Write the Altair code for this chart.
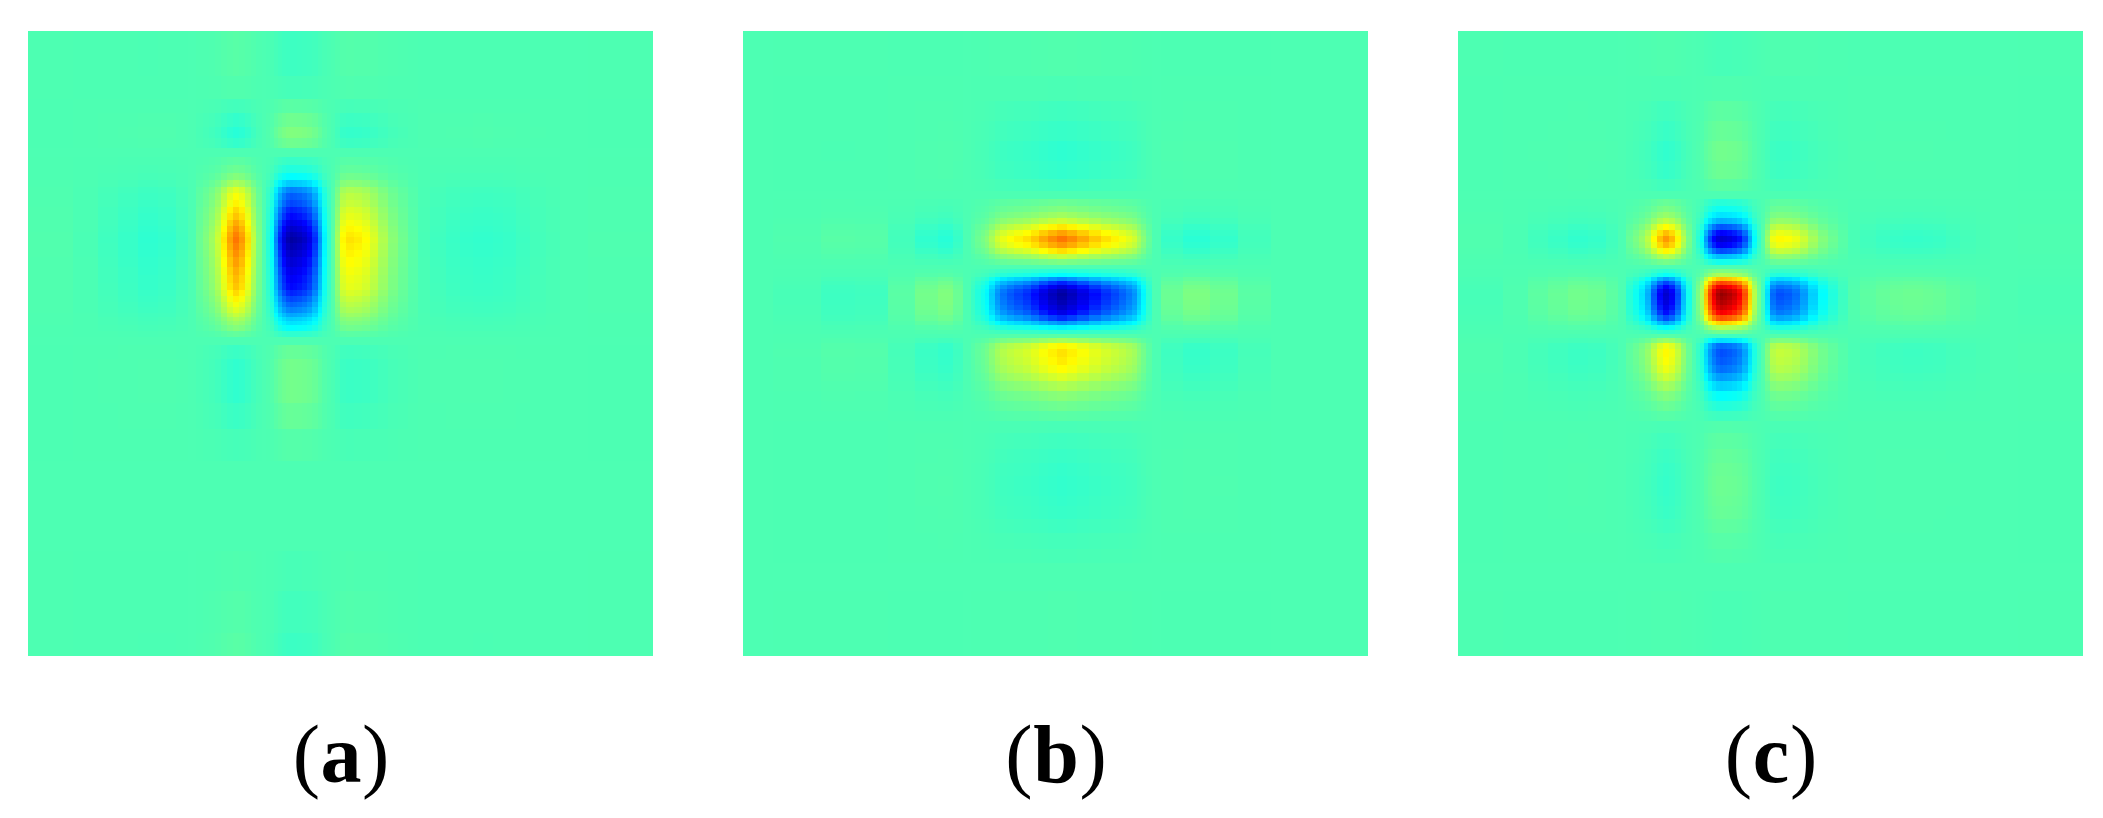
import numpy as np
import pandas as pd
import altair as alt

# Profiles: position inside a 625-unit panel -> relative amplitude
hi_pos = [0,30,60,80,100,120,140,155,165,172,178,184,190,196,202,208,214,220,226,231,236,240,244,248,252,256,260,263,267,271,276,282,287,292,297,301,305,309,314,322,330,338,346,355,365,375,385,395,410,425,440,450,460,470,480,495,510,525,540,580,625]
hi_val = [.01,.01,-.005,-.03,-.05,-.07,-.06,-.03,0,.07,.12,.19,.29,.46,.62,.72,.64,.48,.27,.11,0,-.09,-.18,-.45,-.68,-.85,-.96,-1,-.98,-.95,-.9,-.82,-.66,-.42,-.2,-.07,.03,.2,.42,.47,.45,.41,.33,.23,.14,.08,.03,-.01,-.03,-.045,-.055,-.06,-.06,-.055,-.05,-.035,-.02,-.01,0,.005,.005]

lo_a_pos = [0,30,60,75,90,102,112,122,130,138,146,152,159,166,172,179,186,192,198,204,209,216,222,231,240,248,256,262,268,274,279,284,288,292,296,303,309,320,336,360,385,410,450,500,540,580,625]
lo_a_val = [.035,.035,.015,-.03,-.08,-.12,-.08,0,.05,.10,.175,.3,.465,.55,.6,.69,.75,.83,.9,.96,1,.96,.92,.87,.82,.78,.75,.68,.6,.53,.465,.38,.3,.24,.175,.07,0,-.06,-.09,-.09,-.06,-.02,0,0,.01,.025,.04]

lo_b_pos = [0,60,95,130,160,185,205,215,225,230,235,240,244,249,254,260,267,275,284,292,300,310,319,328,340,352,364,372,380,386,392,396,400,406,412,425,454,480,510,545,625]
lo_b_val = [0,.01,.035,.03,-.03,-.09,-.12,-.07,0,.05,.1,.14,.19,.3,.42,.5,.56,.61,.66,.74,.84,.93,1,.93,.84,.74,.66,.6,.54,.48,.42,.3,.19,.08,0,-.07,-.11,-.08,-.03,0,0]

AMP_A = 0.43
AMP_B = 0.43
AMP_C = 0.53
LETTERS = ["a", "b", "c"]
LETTER_W = [40, 45, 36]

JET_DOMAIN = [-.45, -.325, -.075, .175, .425, .55]
JET_RANGE = ["#00008f", "#0000ff", "#00ffff", "#ffff00", "#ff0000", "#800000"]


def edges(pos):
    p = np.array(pos, float)
    mid = np.round((p[:-1] + p[1:]) / 2)
    return np.concatenate([[0], mid, [625]])


def table(xp, xv, yp, yv, amp):
    ex, ey = edges(xp), edges(yp)
    rows = []
    for i, a in enumerate(xv):
        for j, b in enumerate(yv):
            rows.append((ex[i], ex[i + 1], ey[j], ey[j + 1], amp * a * b))
    return pd.DataFrame(rows, columns=["x0", "x1", "y0", "y1", "v"])


tables = [
    table(hi_pos, hi_val, lo_a_pos, lo_a_val, AMP_A),
    table(lo_b_pos, lo_b_val, hi_pos, hi_val, AMP_B),
    table(hi_pos, hi_val, hi_pos, hi_val, AMP_C),
]

alt.data_transformers.disable_max_rows()


def panel(df, letter, w):
    heat = alt.Chart(df).mark_rect(strokeWidth=0).encode(
        x=alt.X("x0:Q", axis=None, scale=alt.Scale(domain=[0, 625], nice=False, zero=False)),
        x2="x1:Q",
        y=alt.Y("y0:Q", axis=None, scale=alt.Scale(domain=[0, 775], nice=False, zero=False, reverse=True)),
        y2="y1:Q",
        color=alt.Color("v:Q", legend=None,
                        scale=alt.Scale(domain=JET_DOMAIN, range=JET_RANGE, interpolate="rgb", clamp=True)),
    )
    base = dict(font="Liberation Serif", fontSize=82, color="black", baseline="alphabetic")
    pos = dict(x=alt.value(313), y=alt.value(751))
    mid = alt.Chart(df.head(1)).mark_text(text=letter, fontWeight="bold", align="center", **base).encode(**pos)
    lp = alt.Chart(df.head(1)).mark_text(text="(", align="right", dx=-(w / 2 + 1), **base).encode(**pos)
    rp = alt.Chart(df.head(1)).mark_text(text=")", align="left", dx=w / 2 + 1, **base).encode(**pos)
    return alt.layer(heat, lp, mid, rp).properties(width=625, height=775)


chart = alt.hconcat(*[panel(t, l, w) for t, l, w in zip(tables, LETTERS, LETTER_W)], spacing=90).resolve_scale(
    x="independent", y="independent", color="independent"
).properties(
    padding={"left": 20, "top": 23, "right": 0, "bottom": 0}, background="white"
).configure_view(stroke=None)

chart.save("out.html", embed_options={"renderer": "svg", "actions": False})
